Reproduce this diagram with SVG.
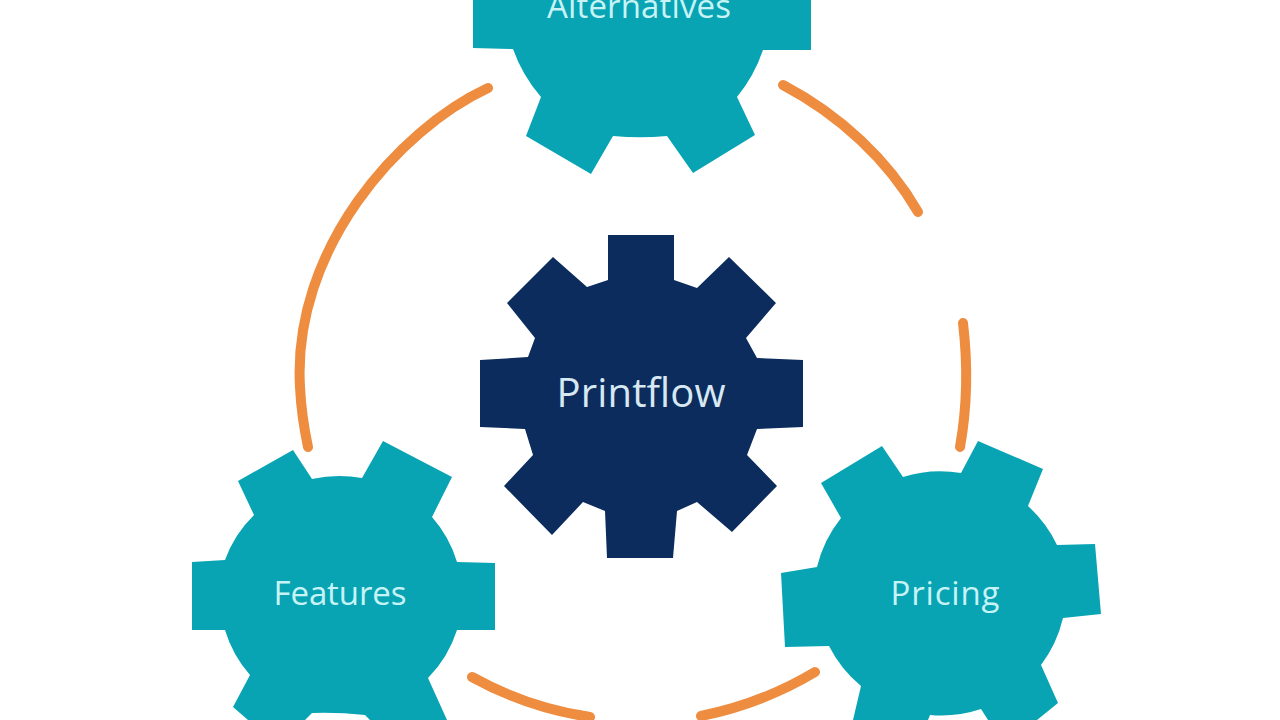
<svg xmlns="http://www.w3.org/2000/svg" width="1280" height="720" viewBox="0 0 1280 720">
<style>
.teal{fill:#08a4b4}
.navy{fill:#0b2c5c}
.lbl{font-family:"Open Sans","Noto Sans","Liberation Sans",sans-serif;text-anchor:middle;font-weight:500}
.lt{fill:#c8f3f6;font-size:33px}
.ln{fill:#d8e8f3;font-size:40px}
.arc{fill:none;stroke:#ee8c3f;stroke-width:10;stroke-linecap:round}
</style>
<rect width="1280" height="720" fill="#ffffff"/>
<g id="connectors">
<path class="arc" d="M488 88C398 130 292 250 300 387C301 408 304 428 308 447"/>
<path class="arc" d="M783 85C840 115 888 160 918 212"/>
<path class="arc" d="M963 323C968 365 967 408 960 447"/>
<path class="arc" d="M472 677C510 698 550 711 590 717"/>
<path class="arc" d="M701 716C740 708 780 693 815 672"/>
</g>
<g id="node-alternatives">
<path class="teal" d="M473 0L473 48L513 49A150 150 0 0 0 541 97L526 136L591 174L613 136A300 300 0 0 0 667 136L693 173L755 135L737 97A150 150 0 0 0 763 50L811 50L811 0Z"/>
<text class="lbl lt" x="639" y="18" textLength="184">Alternatives</text>
</g>
<g id="node-printflow">
<path class="navy" d="M608 235L674 235L674 280L697 288L729 257L776 303L746 338L757 358L803 360L803 427L757 429L747 455L777 486L732 532L697 502L677 511L673 558L607 558L605 511L583 502L552 535L504 486L533 455L525 429L480 427L480 360L528 357L535 338L507 303L553 257L587 287L608 280Z"/>
<text class="lbl ln" x="641" y="407" textLength="169">Printflow</text>
</g>
<g id="node-features">
<path class="teal" d="M192 562L225 560A120 120 0 0 1 254 515L238 481L293 450L312 479A125 125 0 0 1 362 478L383 441L452 477L432 517A120 120 0 0 1 457 562L495 563L495 630L457 630A120 120 0 0 1 428 678L447 720L370 720L365 715A400 400 0 0 0 312 713L305 720L248 720L233 707L250 675A120 120 0 0 1 225 630L192 630Z"/>
<text class="lbl lt" x="340" y="605" textLength="133">Features</text>
</g>
<g id="node-pricing">
<path class="teal" d="M781 573L817 567A125 125 0 0 1 841 518L821 483L882 446L903 477A125 125 0 0 1 961 473L978 441L1043 469L1028 506A125 125 0 0 1 1057 545L1095 544L1101 614L1063 618A125 125 0 0 1 1041 665L1058 703L1037 720L988 720L981 709A125 125 0 0 1 930 715L928 720L853 720L861 686A125 125 0 0 1 829 646L785 647Z"/>
<text class="lbl lt" x="945" y="605" textLength="109">Pricing</text>
</g>
</svg>
